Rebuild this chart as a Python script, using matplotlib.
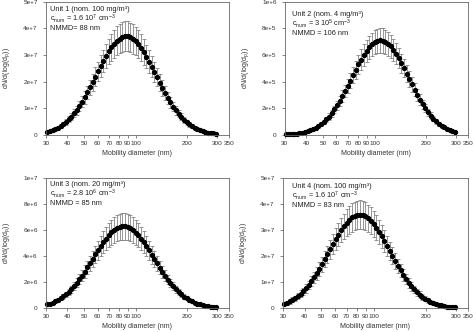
import matplotlib
matplotlib.use("Agg")
from matplotlib import pyplot as plt

plt.rcParams['font.family'] = ['Liberation Sans', 'DejaVu Sans']
plt.rcParams['mathtext.fontset'] = 'custom'
plt.rcParams['mathtext.rm'] = 'Liberation Sans'
plt.rcParams['mathtext.it'] = 'Liberation Sans:italic'

''' Data read off the four SMPS panels '''
# mobility diameter channels (nm)
diam = [30.5, 31.6, 32.8, 34.0, 35.2, 36.5, 37.9, 39.2, 40.7, 42.2, 43.7, 45.3, 47.0, 48.7, 50.5, 52.3,
        54.2, 56.2, 58.3, 60.4, 62.6, 64.9, 67.3, 69.8, 72.3, 75.0, 77.7, 80.6, 83.5, 86.6, 89.8, 93.1,
        96.5, 100.0, 103.7, 107.5, 111.4, 115.5, 119.7, 124.1, 128.6, 133.4, 138.2, 143.3, 148.6, 154.0,
        159.6, 165.5, 171.5, 177.8, 184.3, 191.1, 198.1, 205.4, 212.9, 220.7, 228.8, 237.1, 245.8, 254.8,
        264.2, 273.8, 283.9, 294.3]

# Unit 1, x 1e7
unit1 = [0.11, 0.14, 0.18, 0.22, 0.27, 0.33, 0.40, 0.48, 0.58, 0.68, 0.80, 0.93, 1.08, 1.24, 1.41, 1.59,
         1.78, 1.98, 2.18, 2.38, 2.58, 2.77, 2.96, 3.13, 3.28, 3.42, 3.53, 3.61, 3.67, 3.70, 3.70, 3.66,
         3.60, 3.52, 3.40, 3.27, 3.11, 2.94, 2.75, 2.56, 2.36, 2.16, 1.96, 1.76, 1.57, 1.39, 1.22, 1.06,
         0.92, 0.79, 0.67, 0.57, 0.47, 0.39, 0.32, 0.26, 0.21, 0.17, 0.14, 0.11, 0.08, 0.07, 0.05, 0.04]
unit1_err = [0.03, 0.04, 0.04, 0.05, 0.06, 0.07, 0.08, 0.10, 0.11, 0.13, 0.15, 0.17, 0.19, 0.21, 0.24, 0.26,
             0.29, 0.32, 0.35, 0.37, 0.40, 0.43, 0.46, 0.48, 0.50, 0.52, 0.54, 0.55, 0.56, 0.56, 0.56, 0.55,
             0.55, 0.53, 0.52, 0.50, 0.48, 0.45, 0.43, 0.40, 0.37, 0.34, 0.31, 0.29, 0.26, 0.23, 0.21, 0.18,
             0.16, 0.14, 0.13, 0.11, 0.09, 0.08, 0.07, 0.06, 0.05, 0.04, 0.04, 0.03, 0.03, 0.02, 0.02, 0.02]

# Unit 2, x 1e5
unit2 = [0.03, 0.04, 0.05, 0.07, 0.09, 0.12, 0.16, 0.20, 0.26, 0.33, 0.42, 0.52, 0.64, 0.79, 0.96, 1.15,
         1.37, 1.62, 1.90, 2.21, 2.54, 2.90, 3.28, 3.67, 4.07, 4.48, 4.88, 5.28, 5.65, 6.00, 6.31, 6.58,
         6.79, 6.96, 7.06, 7.10, 7.08, 6.99, 6.84, 6.64, 6.39, 6.09, 5.75, 5.38, 4.99, 4.59, 4.18, 3.78,
         3.38, 3.00, 2.64, 2.30, 1.99, 1.70, 1.44, 1.21, 1.01, 0.83, 0.68, 0.55, 0.44, 0.35, 0.28, 0.22]
unit2_err = [0.02, 0.02, 0.02, 0.03, 0.03, 0.04, 0.05, 0.06, 0.07, 0.08, 0.09, 0.11, 0.13, 0.15, 0.17, 0.20,
             0.23, 0.26, 0.30, 0.34, 0.38, 0.43, 0.47, 0.52, 0.57, 0.62, 0.67, 0.71, 0.76, 0.80, 0.83, 0.86,
             0.89, 0.91, 0.92, 0.92, 0.92, 0.91, 0.89, 0.87, 0.84, 0.81, 0.77, 0.72, 0.68, 0.63, 0.58, 0.53,
             0.49, 0.44, 0.39, 0.35, 0.31, 0.27, 0.24, 0.21, 0.18, 0.16, 0.13, 0.11, 0.10, 0.08, 0.07, 0.06]

# Unit 3, x 1e6
unit3 = [0.28, 0.34, 0.42, 0.52, 0.63, 0.75, 0.90, 1.07, 1.25, 1.46, 1.69, 1.94, 2.21, 2.50, 2.81, 3.13,
         3.46, 3.79, 4.13, 4.46, 4.78, 5.08, 5.36, 5.61, 5.83, 6.01, 6.15, 6.25, 6.29, 6.29, 6.24, 6.15,
         6.01, 5.82, 5.60, 5.35, 5.07, 4.77, 4.45, 4.12, 3.78, 3.45, 3.12, 2.80, 2.49, 2.20, 1.93, 1.68,
         1.45, 1.25, 1.06, 0.89, 0.75, 0.62, 0.51, 0.42, 0.34, 0.28, 0.22, 0.18, 0.14, 0.11, 0.08, 0.06]
unit3_err = [0.07, 0.08, 0.10, 0.11, 0.13, 0.15, 0.17, 0.20, 0.23, 0.26, 0.30, 0.34, 0.38, 0.43, 0.48, 0.53,
             0.58, 0.64, 0.69, 0.74, 0.79, 0.84, 0.89, 0.93, 0.96, 0.99, 1.01, 1.03, 1.04, 1.04, 1.03, 1.01,
             0.99, 0.96, 0.93, 0.89, 0.84, 0.79, 0.74, 0.69, 0.63, 0.58, 0.53, 0.48, 0.43, 0.38, 0.34, 0.30,
             0.26, 0.23, 0.20, 0.17, 0.15, 0.13, 0.11, 0.10, 0.08, 0.07, 0.07, 0.06, 0.05, 0.05, 0.04, 0.04]

# Unit 4, x 1e7
unit4 = [0.17, 0.21, 0.26, 0.32, 0.38, 0.46, 0.55, 0.65, 0.76, 0.89, 1.03, 1.18, 1.34, 1.51, 1.69, 1.88,
         2.07, 2.27, 2.46, 2.65, 2.83, 3.00, 3.15, 3.29, 3.40, 3.49, 3.55, 3.59, 3.60, 3.58, 3.53, 3.46,
         3.36, 3.24, 3.10, 2.94, 2.77, 2.58, 2.39, 2.20, 2.01, 1.81, 1.63, 1.45, 1.28, 1.12, 0.98, 0.84,
         0.72, 0.61, 0.52, 0.43, 0.36, 0.30, 0.24, 0.20, 0.16, 0.13, 0.10, 0.08, 0.06, 0.05, 0.04, 0.03]
unit4_err = [0.07, 0.08, 0.09, 0.09, 0.10, 0.11, 0.13, 0.14, 0.16, 0.17, 0.19, 0.22, 0.24, 0.26, 0.29, 0.31,
             0.34, 0.37, 0.39, 0.42, 0.45, 0.47, 0.49, 0.51, 0.53, 0.54, 0.55, 0.55, 0.55, 0.55, 0.54, 0.53,
             0.52, 0.50, 0.48, 0.46, 0.44, 0.41, 0.38, 0.36, 0.33, 0.30, 0.28, 0.25, 0.23, 0.21, 0.19, 0.17,
             0.15, 0.14, 0.12, 0.11, 0.10, 0.09, 0.08, 0.08, 0.07, 0.07, 0.06, 0.06, 0.06, 0.06, 0.06, 0.05]

x_ticks = [30, 40, 50, 60, 70, 80, 90, 100, 200, 300, 350]
x_labels = ['30', '40', '50', '60', '70', '80', '90', '100', '200', '300', '350']

panels = [
    # values, errors, scale, y max, y tick labels, text lines, axes rect, text anchor
    (unit1, unit1_err, 1e7, 5e7, ['0', '1e+7', '2e+7', '3e+7', '4e+7', '5e+7'],
     ['Unit 1 (nom. 100 mg/m³)', r'c$_\mathrm{num}$ = 1.6 10$^\mathrm{7}$ cm$^\mathrm{-3}$', 'NMMD= 88 nm'],
     [0.097, 0.594, 0.386, 0.401], (0.022, 0.944)),
    (unit2, unit2_err, 1e5, 1e6, ['0', '2e+5', '4e+5', '6e+5', '8e+5', '1e+6'],
     ['Unit 2 (nom. 4 mg/m³)', r'c$_\mathrm{num}$ = 3 10$^\mathrm{5}$ cm$^\mathrm{-3}$', 'NMMD = 106 nm'],
     [0.601, 0.594, 0.386, 0.401], (0.038, 0.906)),
    (unit3, unit3_err, 1e6, 1e7, ['0', '2e+6', '4e+6', '6e+6', '8e+6', '1e+7'],
     ['Unit 3 (nom. 20 mg/m³)', r'c$_\mathrm{num}$ = 2.8 10$^\mathrm{6}$ cm$^\mathrm{-3}$', 'NMMD = 85 nm'],
     [0.097, 0.072, 0.386, 0.391], (0.022, 0.954)),
    (unit4, unit4_err, 1e7, 5e7, ['0', '1e+7', '2e+7', '3e+7', '4e+7', '5e+7'],
     ['Unit 4 (nom. 100 mg/m³)', r'c$_\mathrm{num}$ = 1.6 10$^\mathrm{7}$ cm$^\mathrm{-3}$', 'NMMD = 83 nm'],
     [0.597, 0.072, 0.39, 0.391], (0.05, 0.936)),
]

fig = plt.figure(figsize=(4.74, 3.32), dpi=100)

for vals, errs, scale, ymax, ylabels, lines, rect, (tx, ty) in panels:
    ax = fig.add_axes(rect)
    ys = [v * scale for v in vals]
    es = [e * scale for e in errs]
    ax.errorbar(diam, ys, yerr=es, fmt='o', color='black', markersize=2.8,
                ecolor='#7a7a7a', elinewidth=0.55, capsize=1.7, capthick=0.55, clip_on=False)
    ax.set_xscale('log')
    ax.set_xlim(30, 350)
    ax.set_ylim(0, ymax)
    ax.set_xticks(x_ticks)
    ax.set_xticklabels(x_labels)
    ax.minorticks_off()
    ax.set_yticks([ymax * i / 5 for i in range(6)])
    ax.set_yticklabels(ylabels)
    ax.tick_params(labelsize=4.6, length=2, width=0.5, color='#555555', labelcolor='#333333')
    ax.tick_params(axis='y', pad=4)
    ax.tick_params(axis='x', pad=2.5)
    for sp in ax.spines.values():
        sp.set_linewidth(0.6)
        sp.set_color('#666666')
    ax.set_xlabel('Mobility diameter (nm)', fontsize=5, color='#333333', labelpad=2.5)
    ax.set_ylabel(r'dN/d(log(d$_\mathrm{p}$))', fontsize=5, color='#333333', labelpad=8)
    for i, t in enumerate(lines):
        ax.text(tx, ty - i * 0.073, t, transform=ax.transAxes, fontsize=5.3, va='center', ha='left',
                color='#222222')

fig.savefig('out.png', dpi=100)
